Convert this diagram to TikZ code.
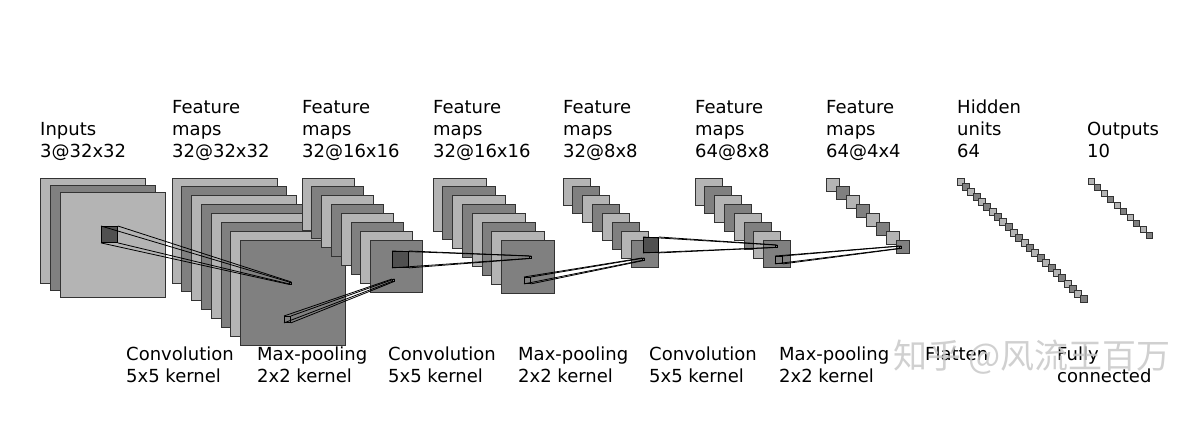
\documentclass[tikz,border=0pt]{standalone}
\usepackage{fontspec}
\setmainfont{DejaVu Sans}
\newfontfamily\cjk{Noto Sans CJK SC}
\usepackage{xcolor}
\usetikzlibrary{positioning}
\definecolor{lightgray}{HTML}{B4B4B4}
\definecolor{darkgray}{HTML}{808080}
\definecolor{patchgray}{HTML}{505050}
\definecolor{markgray}{HTML}{C8C8C8}

% stack of feature maps: x, y, count, dx, dy, size
\newcommand{\fmstack}[6]{%
  \foreach \i in {0,...,\numexpr#3-1\relax}{%
    \ifodd\i \def\fc{darkgray}\else\def\fc{lightgray}\fi
    \draw[fill=\fc, line width=0.9pt, draw=black!80]
      ({#1+\i*#4},{#2+\i*#5}) rectangle ++(#6,#6);
  }%
}

\tikzset{
  lbl/.style={anchor=north west, align=left, inner sep=0pt,
    font=\fontsize{18}{22}\selectfont},
  patch/.style={draw=black, fill=patchgray, line width=0.9pt, anchor=north west,
    inner sep=0pt, minimum size=#1},
  spot/.style={draw=black, anchor=north west, inner sep=0pt, minimum size=#1},
  link/.style={line width=0.8pt, black}
}

\begin{document}
\begin{tikzpicture}[x=1pt,y=-1pt]
\useasboundingbox (0,0) rectangle (1201,438);

% layers
\fmstack{40}{178}{3}{10}{7}{105}
\fmstack{172}{178}{8}{9.8}{8.9}{105}
\fmstack{302}{178}{8}{9.8}{8.9}{52}
\fmstack{433}{178}{8}{9.8}{8.9}{53}
\fmstack{563}{178}{8}{9.8}{8.9}{27}
\fmstack{695}{178}{8}{9.8}{8.9}{27}
\fmstack{826}{178}{8}{10}{8.9}{13}
\fmstack{957}{178}{24}{5.35}{5.1}{7}
\fmstack{1088}{178}{10}{6.5}{6}{6}

% patches and their targets
\node[patch=16pt] (p1) at (101,226) {};
\node[spot=2pt] (q1) at (289,282) {};
\node[patch=6pt, fill=darkgray] (p2) at (284,316) {};
\node[spot=2pt] (q2) at (392,279) {};
\node[patch=16pt] (p3) at (392,251) {};
\node[spot=2pt] (q3) at (529,256) {};
\node[patch=6pt, fill=darkgray] (p4) at (524,277) {};
\node[spot=2pt] (q4) at (642,258) {};
\node[patch=15pt] (p5) at (643,237) {};
\node[spot=2pt] (q5) at (775,245) {};
\node[patch=7pt, fill=darkgray] (p6) at (775,256) {};
\node[spot=2pt] (q6) at (899,246) {};

\foreach \n in {1,...,6}{
  \foreach \a in {north west,north east,south west,south east}
    \draw[link] (p\n.\a) -- (q\n.\a);
}

% top labels
\node[lbl] (l1) at (40,122) {Inputs\\3@32x32};
\node[lbl] (l2) at (172,100) {Feature\\maps\\32@32x32};
\node[lbl] (l3) at (302,100) {Feature\\maps\\32@16x16};
\node[lbl] (l4) at (433,100) {Feature\\maps\\32@16x16};
\node[lbl] (l5) at (563,100) {Feature\\maps\\32@8x8};
\node[lbl] (l6) at (695,100) {Feature\\maps\\64@8x8};
\node[lbl] (l7) at (826,100) {Feature\\maps\\64@4x4};
\node[lbl] (l8) at (957,100) {Hidden\\units\\64};
\node[lbl] (l9) at (1087,122) {Outputs\\10};

% bottom labels
\node[lbl] (o1) at (126,347) {Convolution\\5x5 kernel};
\node[lbl] (o2) at (257,347) {Max-pooling\\2x2 kernel};
\node[lbl] (o3) at (388,347) {Convolution\\5x5 kernel};
\node[lbl] (o4) at (518,347) {Max-pooling\\2x2 kernel};
\node[lbl] (o5) at (649,347) {Convolution\\5x5 kernel};
\node[lbl] (o6) at (779,347) {Max-pooling\\2x2 kernel};
\node[lbl] (o7) at (925,347) {Flatten};
\node[lbl] (o8) at (1057,347) {Fully\\connected};

% watermark
\node[anchor=west, inner sep=0pt, text=markgray, opacity=0.85,
  font=\cjk\fontsize{34}{34}\selectfont] (wm) at (893,357) {知乎 @风流王百万};

\end{tikzpicture}
\end{document}
